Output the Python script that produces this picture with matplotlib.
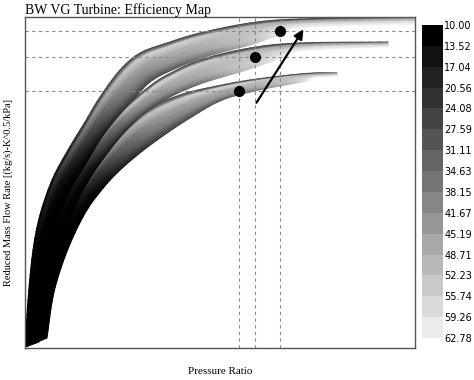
import numpy as np
import matplotlib
matplotlib.use("Agg")
import matplotlib.pyplot as plt
from matplotlib.colors import LinearSegmentedColormap, ListedColormap, BoundaryNorm
from matplotlib.cm import ScalarMappable

# ---- data (axis units: pressure-ratio axis 0..390, mass-flow axis 0..331) ----
cross_pos = [0.0, 0.15, 0.4, 0.75, 1.0]

band1_ux = [0, 3, 8, 15, 27, 43, 60, 75, 95, 115, 142, 175, 225, 275, 390]
band1_uy = [1, 48, 98, 133, 168, 198, 226, 251, 278, 295, 305, 315, 325, 329, 331]
band1_lx = [8, 15, 22, 32, 45, 60, 75, 90, 108, 125, 147, 180, 225, 275, 390]
band1_ly = [4, 48, 93, 126, 158, 183, 208, 228, 248, 266, 278, 291, 303, 316, 320]

band2_ux = [0, 5, 11, 20, 32, 47, 65, 85, 108, 125, 142, 175, 225, 275, 363]
band2_uy = [1, 48, 88, 120, 153, 180, 205, 228, 248, 262, 273, 288, 300, 305, 306]
band2_lx = [14, 21, 29, 40, 53, 67, 81, 97, 115, 130, 145, 175, 215, 275, 363]
band2_ly = [6, 48, 86, 118, 148, 173, 193, 213, 231, 242, 251, 264, 276, 293, 298]

band3_ux = [0, 8, 17, 30, 45, 63, 80, 100, 125, 158, 192, 225, 265, 290, 312]
band3_uy = [1, 48, 86, 120, 148, 176, 198, 220, 240, 254, 262, 268, 273, 275, 275]
band3_lx = [22, 28, 37, 49, 62, 75, 90, 110, 135, 165, 195, 225, 265, 290, 312]
band3_ly = [10, 51, 83, 113, 138, 156, 173, 191, 210, 230, 247, 256, 264, 268, 270]

# efficiency along each band (rows: stations, cols: cross positions upper->lower)
efficiency = [
    [10, 10, 10, 10, 10],
    [10, 10, 10, 10, 10],
    [10, 12, 10, 10, 10],
    [10, 15, 11, 10, 10],
    [12, 21, 14, 11, 10],
    [15, 30, 20, 14, 11],
    [19, 40, 28, 21, 14],
    [22, 48, 36, 29, 18],
    [24, 54, 44, 36, 23],
    [24, 57, 47, 40, 26],
    [24, 58, 49, 43, 29],
    [24, 56, 51, 47, 35],
    [24, 52, 54, 55, 50],
    [24, 46, 58, 64, 67],
    [30, 48, 60, 67, 67],
]

ref_x = [214, 230, 255]
ref_y = [257, 291, 317]
op_x = [214, 230, 255]
op_y = [257, 291, 317]
arrow_start = (230, 243)
arrow_end = (280, 321)

cbar_labels = ["10.00", "13.52", "17.04", "20.56", "24.08", "27.59", "31.11", "34.63",
               "38.15", "41.67", "45.19", "48.71", "52.23", "55.74", "59.26", "62.78"]


def catmull(p, n=10):
    """Smooth Catmull-Rom path through the given control values."""
    p = np.asarray(p, float)
    pp = np.concatenate([[2 * p[0] - p[1]], p, [2 * p[-1] - p[-2]]])
    t = np.linspace(0, 1, n, endpoint=False)
    out = []
    for i in range(len(p) - 1):
        p0, p1, p2, p3 = pp[i:i + 4]
        out.append(0.5 * ((2 * p1) + (-p0 + p2) * t + (2 * p0 - 5 * p1 + 4 * p2 - p3) * t ** 2
                          + (-p0 + 3 * p1 - 3 * p2 + p3) * t ** 3))
    out.append([p[-1]])
    return np.concatenate(out)


# ---- figure ----
fig = plt.figure(figsize=(4.74, 3.80), dpi=100)
ax = fig.add_axes([25/474, 32/380, 390/474, 331/380])
ax.set_xlim(0, 390)
ax.set_ylim(0, 331)
ax.set_xticks([])
ax.set_yticks([])
for sp in ax.spines.values():
    sp.set_color("#555555")
    sp.set_linewidth(1.0)

vmin, vmax = float(cbar_labels[0]), float(cbar_labels[-1])
cmap = LinearSegmentedColormap.from_list("effgray", [(0, 0, 0), (0.92, 0.92, 0.92)])
cmap.set_over("white")
cmap.set_under("black")

s = np.array(cross_pos)[None, :]
E = np.array(efficiency, dtype=float)
C = np.column_stack([catmull(E[:, j]) for j in range(E.shape[1])])
for ux, uy, lx, ly in [(band3_ux, band3_uy, band3_lx, band3_ly),
                       (band2_ux, band2_uy, band2_lx, band2_ly),
                       (band1_ux, band1_uy, band1_lx, band1_ly)]:
    ux, uy, lx, ly = [catmull(a)[:, None] for a in (ux, uy, lx, ly)]
    X = ux + s * (lx - ux)
    Y = uy + s * (ly - uy)
    ax.pcolormesh(X, Y, C, shading="gouraud", cmap=cmap, vmin=vmin, vmax=vmax,
                  rasterized=True, zorder=1)

dash = dict(color="#8a8a8a", lw=0.8, linestyle=(0, (3, 3)), zorder=2)
for xv in ref_x:
    ax.axvline(xv, **dash)
for yv in ref_y:
    ax.axhline(yv, **dash)

ax.plot(op_x, op_y, "o", color="black", markersize=7, zorder=4)
ax.annotate("", xy=arrow_end, xytext=arrow_start,
            arrowprops=dict(arrowstyle="-|>", color="black", lw=1.6,
                            mutation_scale=14), zorder=5)

serif = "Liberation Serif"
fig.text(25/474, 1 - 10/380, "BW VG Turbine: Efficiency Map", fontsize=10,
         family=serif, ha="left", va="center")
fig.text(220/474, 1 - 372/380, "Pressure Ratio", fontsize=8, family=serif,
         ha="center", va="center")
fig.text(8/474, 1 - 192/380, "Reduced Mass Flow Rate [(kg/s)-K^0.5/kPa]", fontsize=7.5,
         family=serif, rotation=90, ha="center", va="center")

# ---- colorbar ----
levels = np.array([float(v) for v in cbar_labels])
ncol = len(levels) - 1
grays = np.linspace(0.0, 0.92, ncol)
dcmap = ListedColormap([(g, g, g) for g in grays])
norm = BoundaryNorm(levels, ncol)
cax = fig.add_axes([422/474, 1 - 338/380, 21/474, 313/380])
cb = fig.colorbar(ScalarMappable(norm=norm, cmap=dcmap), cax=cax, ticks=levels)
cb.ax.invert_yaxis()
cb.outline.set_visible(False)
cb.ax.set_yticklabels(cbar_labels)
cb.ax.tick_params(length=0, pad=1, labelsize=7)

fig.savefig("out.png", dpi=100)
